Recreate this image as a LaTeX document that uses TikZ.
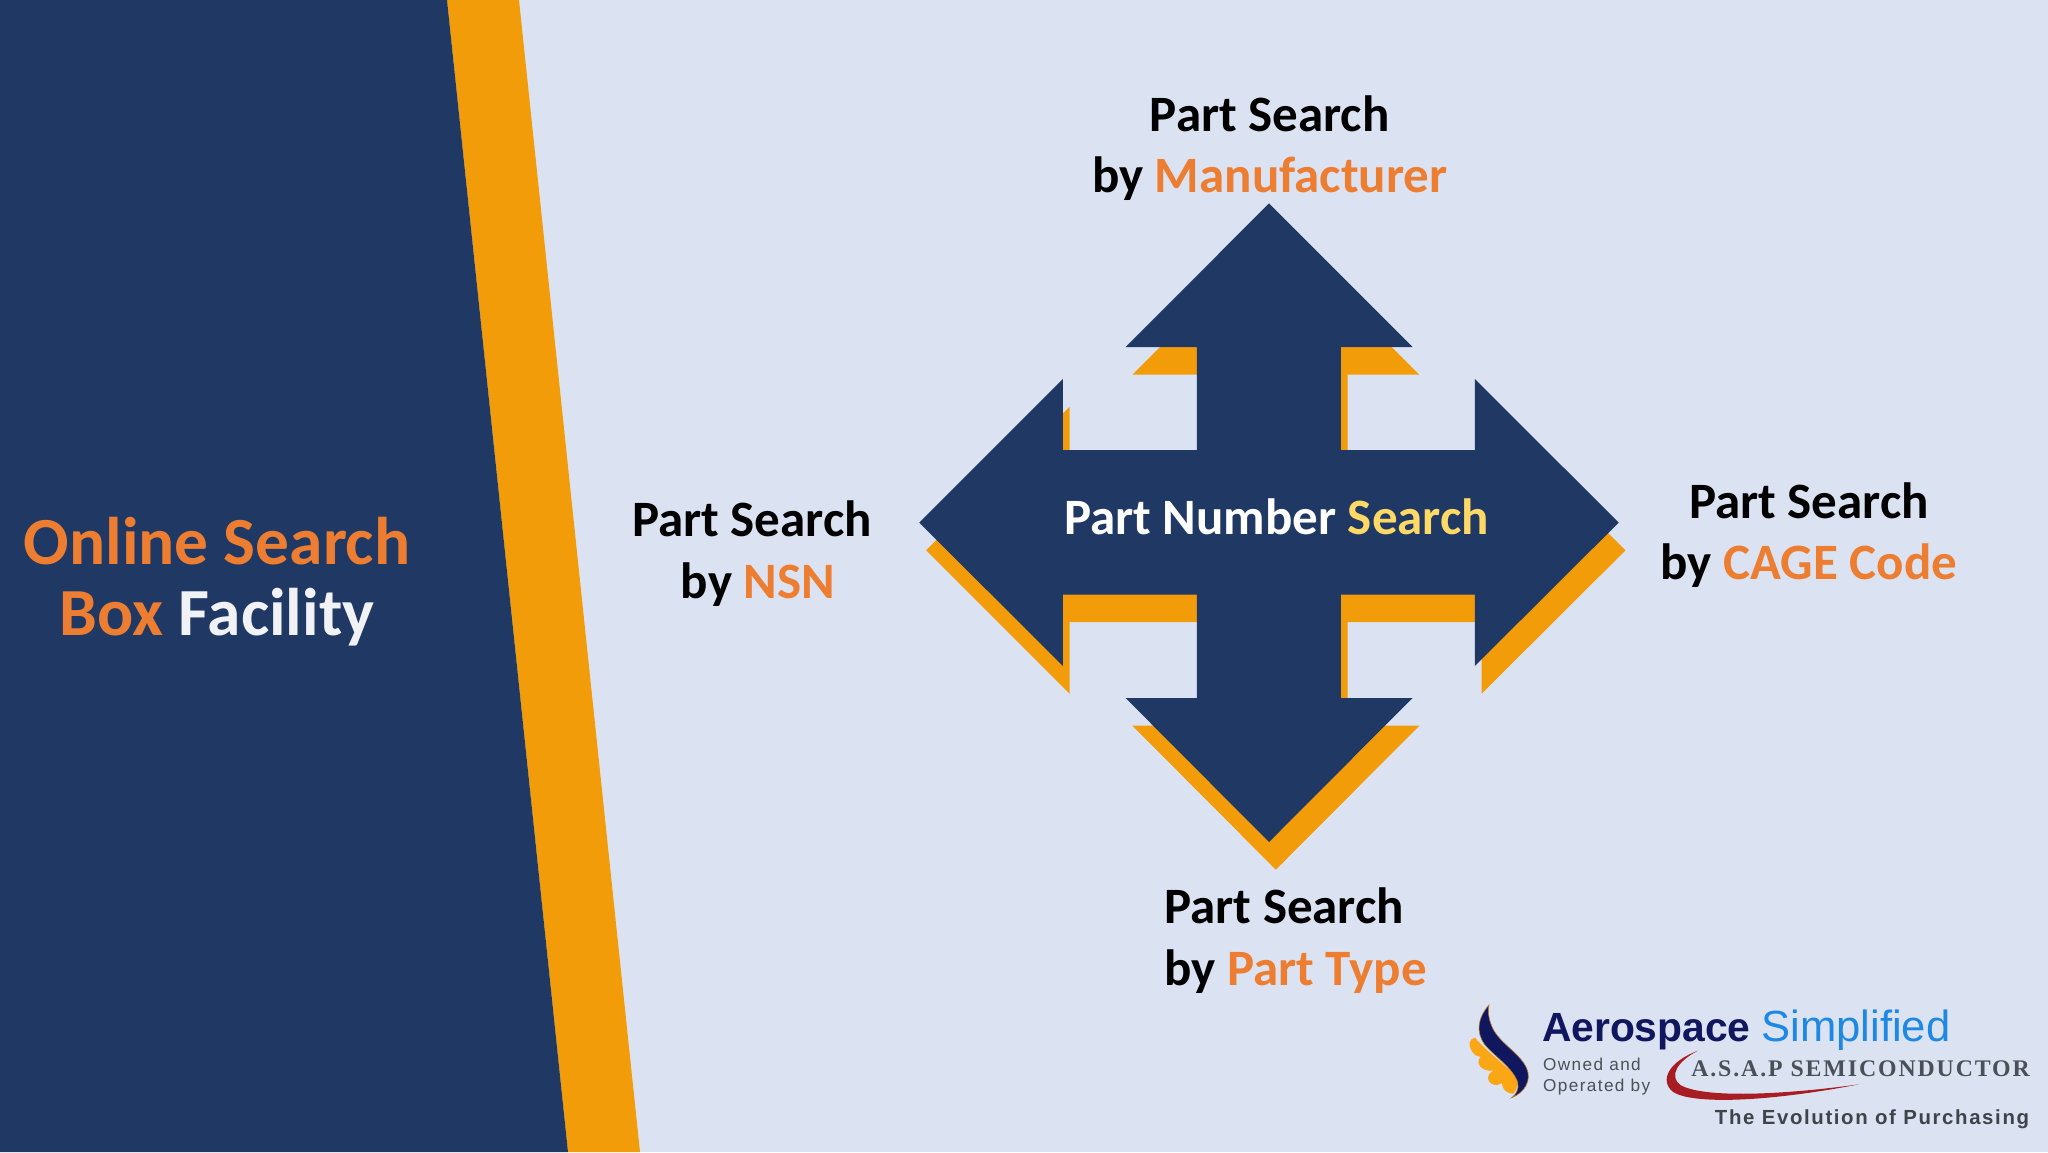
\documentclass[tikz,border=0pt]{standalone}
\usepackage{fontspec}
\setmainfont{Carlito}
\newfontfamily\cfont{Carlito}
\newfontfamily\lfont{Liberation Sans}
\newfontfamily\lsfont[LetterSpace=8]{Liberation Sans}
\newfontfamily\sfont[LetterSpace=8]{Liberation Serif}
\definecolor{bgc}{HTML}{DBE3F2}
\definecolor{navy}{HTML}{1F3864}
\definecolor{amber}{HTML}{F39C0A}
\definecolor{orng}{HTML}{ED7D31}
\definecolor{gold}{HTML}{FFD966}
\definecolor{offwhite}{HTML}{F0F2F5}
\definecolor{lognavy}{HTML}{10175F}
\definecolor{logblue}{HTML}{1E88E5}
\definecolor{loggray}{HTML}{4A5058}
\definecolor{logred}{HTML}{A81C24}
\definecolor{logwing}{HTML}{FBA615}
\tikzset{
  lab/.style={font=\cfont\bfseries\fontsize{25.5}{30.75}\selectfont, align=center, text=black, inner sep=0pt},
  ttl/.style={font=\cfont\bfseries\fontsize{33.7}{40}\selectfont, inner sep=0pt, anchor=base},
  logt/.style={inner sep=0pt, anchor=base west},
  loge/.style={inner sep=0pt, anchor=base east},
}
\newcommand{\crossarrow}{(1269,203.4) -- (1412.5,347) -- (1340.8,347) -- (1340.8,450) -- (1474.8,450) -- (1474.8,379) -- (1618.7,522.6) -- (1474.8,666) -- (1474.8,594.5) -- (1340.8,594.5) -- (1340.8,698) -- (1412.5,698) -- (1269,842) -- (1125.6,698) -- (1196.8,698) -- (1196.8,594.5) -- (1062.8,594.5) -- (1062.8,666) -- (919.3,522.6) -- (1062.8,379) -- (1062.8,450) -- (1196.8,450) -- (1196.8,347) -- (1125.6,347) -- cycle}
\begin{document}
\begin{tikzpicture}[x=0.5pt,y=-0.5pt]
\useasboundingbox (0,0) rectangle (2048,1152);
\fill[bgc] (0,0) rectangle (2048,1152);
\fill[amber] (447,0) -- (519,0) -- (640,1152) -- (568,1152) -- cycle;
\fill[navy] (0,0) -- (447,0) -- (568,1152) -- (0,1152) -- cycle;
\fill[amber,shift={(6.8,27.7)}] \crossarrow;
\fill[navy] \crossarrow;
\node[ttl,text=orng] (t1) at (217,564) {Online Search};
\node[ttl,text=orng] (t2) at (217,635.5) {Box \textcolor{offwhite}{Facility}};
\node[lab] (top) at (1269.8,148) {Part Search\\by \textcolor{orng}{Manufacturer}};
\node[lab] (left) at (752,553.5) {Part Search\\\hspace*{6pt}by \textcolor{orng}{NSN}};
\node[lab] (right) at (1809,535) {Part Search\\by \textcolor{orng}{CAGE Code}};
\node[lab,align=left] (bottom) at (1295.5,940.5) {Part Search\\by \textcolor{orng}{Part Type}};
\node[lab,text=white,anchor=base] (center) at (1276.5,534.5) {Part Number \textcolor{gold}{Search}};
% logo emblem
\begin{scope}[shift={(1450,995)},x=0.16667pt,y=-0.16667pt]
\fill[logwing] (75,128) .. controls (58,130) and (52,150) .. (68,172) .. controls (75,182) and (85,184) .. (92,186) .. controls (80,195) and (82,215) .. (105,224) .. controls (115,228) and (125,228) .. (132,226) .. controls (108,238) and (108,258) .. (128,268) .. controls (138,272) and (148,270) .. (156,264) .. controls (155,280) and (170,298) .. (190,296) .. controls (205,280) and (208,260) .. (190,238) .. controls (165,208) and (110,170) .. (75,128) -- cycle;
\fill[lognavy,draw=logwing!70!lognavy,line width=0.3pt] (117,30) .. controls (85,65) and (75,110) .. (105,150) .. controls (135,185) and (190,220) .. (203,262) .. controls (208,282) and (198,298) .. (185,308) .. controls (225,292) and (245,255) .. (230,220) .. controls (210,175) and (150,145) .. (128,100) .. controls (118,78) and (112,55) .. (117,30) -- cycle;
\end{scope}
% logo text and swoosh
\begin{scope}[shift={(1440,980)},x=0.1939pt,y=-0.16667pt]
\fill[logred] (665,212) .. controls (590,245) and (565,300) .. (600,335) .. controls (650,375) and (850,365) .. (1080,313) .. controls (880,345) and (680,355) .. (620,315) .. controls (590,290) and (610,245) .. (665,212) -- cycle;
\node[logt,font=\lfont\bfseries\fontsize{20.4}{24}\selectfont,text=lognavy] (as1) at (262,183) {Aerospace};
\node[logt,font=\lfont\fontsize{21.8}{26}\selectfont,text=logblue] (as2) at (828,183) {Simplified};
\node[logt,font=\lsfont\fontsize{8.6}{11}\selectfont,text=loggray] (ow1) at (265,270) {Owned and};
\node[logt,font=\lsfont\fontsize{8.6}{11}\selectfont,text=loggray] (ow2) at (265,335) {Operated by};
\node[loge,font=\sfont\bfseries\fontsize{11.9}{15}\selectfont,text=loggray] (asap) at (1522,290) {A.S.A.P SEMICONDUCTOR};
\node[loge,font=\lsfont\bfseries\fontsize{10.2}{12}\selectfont,text=loggray!85!black] (evo) at (1520,432) {The Evolution of Purchasing};
\end{scope}
\end{tikzpicture}
\end{document}
